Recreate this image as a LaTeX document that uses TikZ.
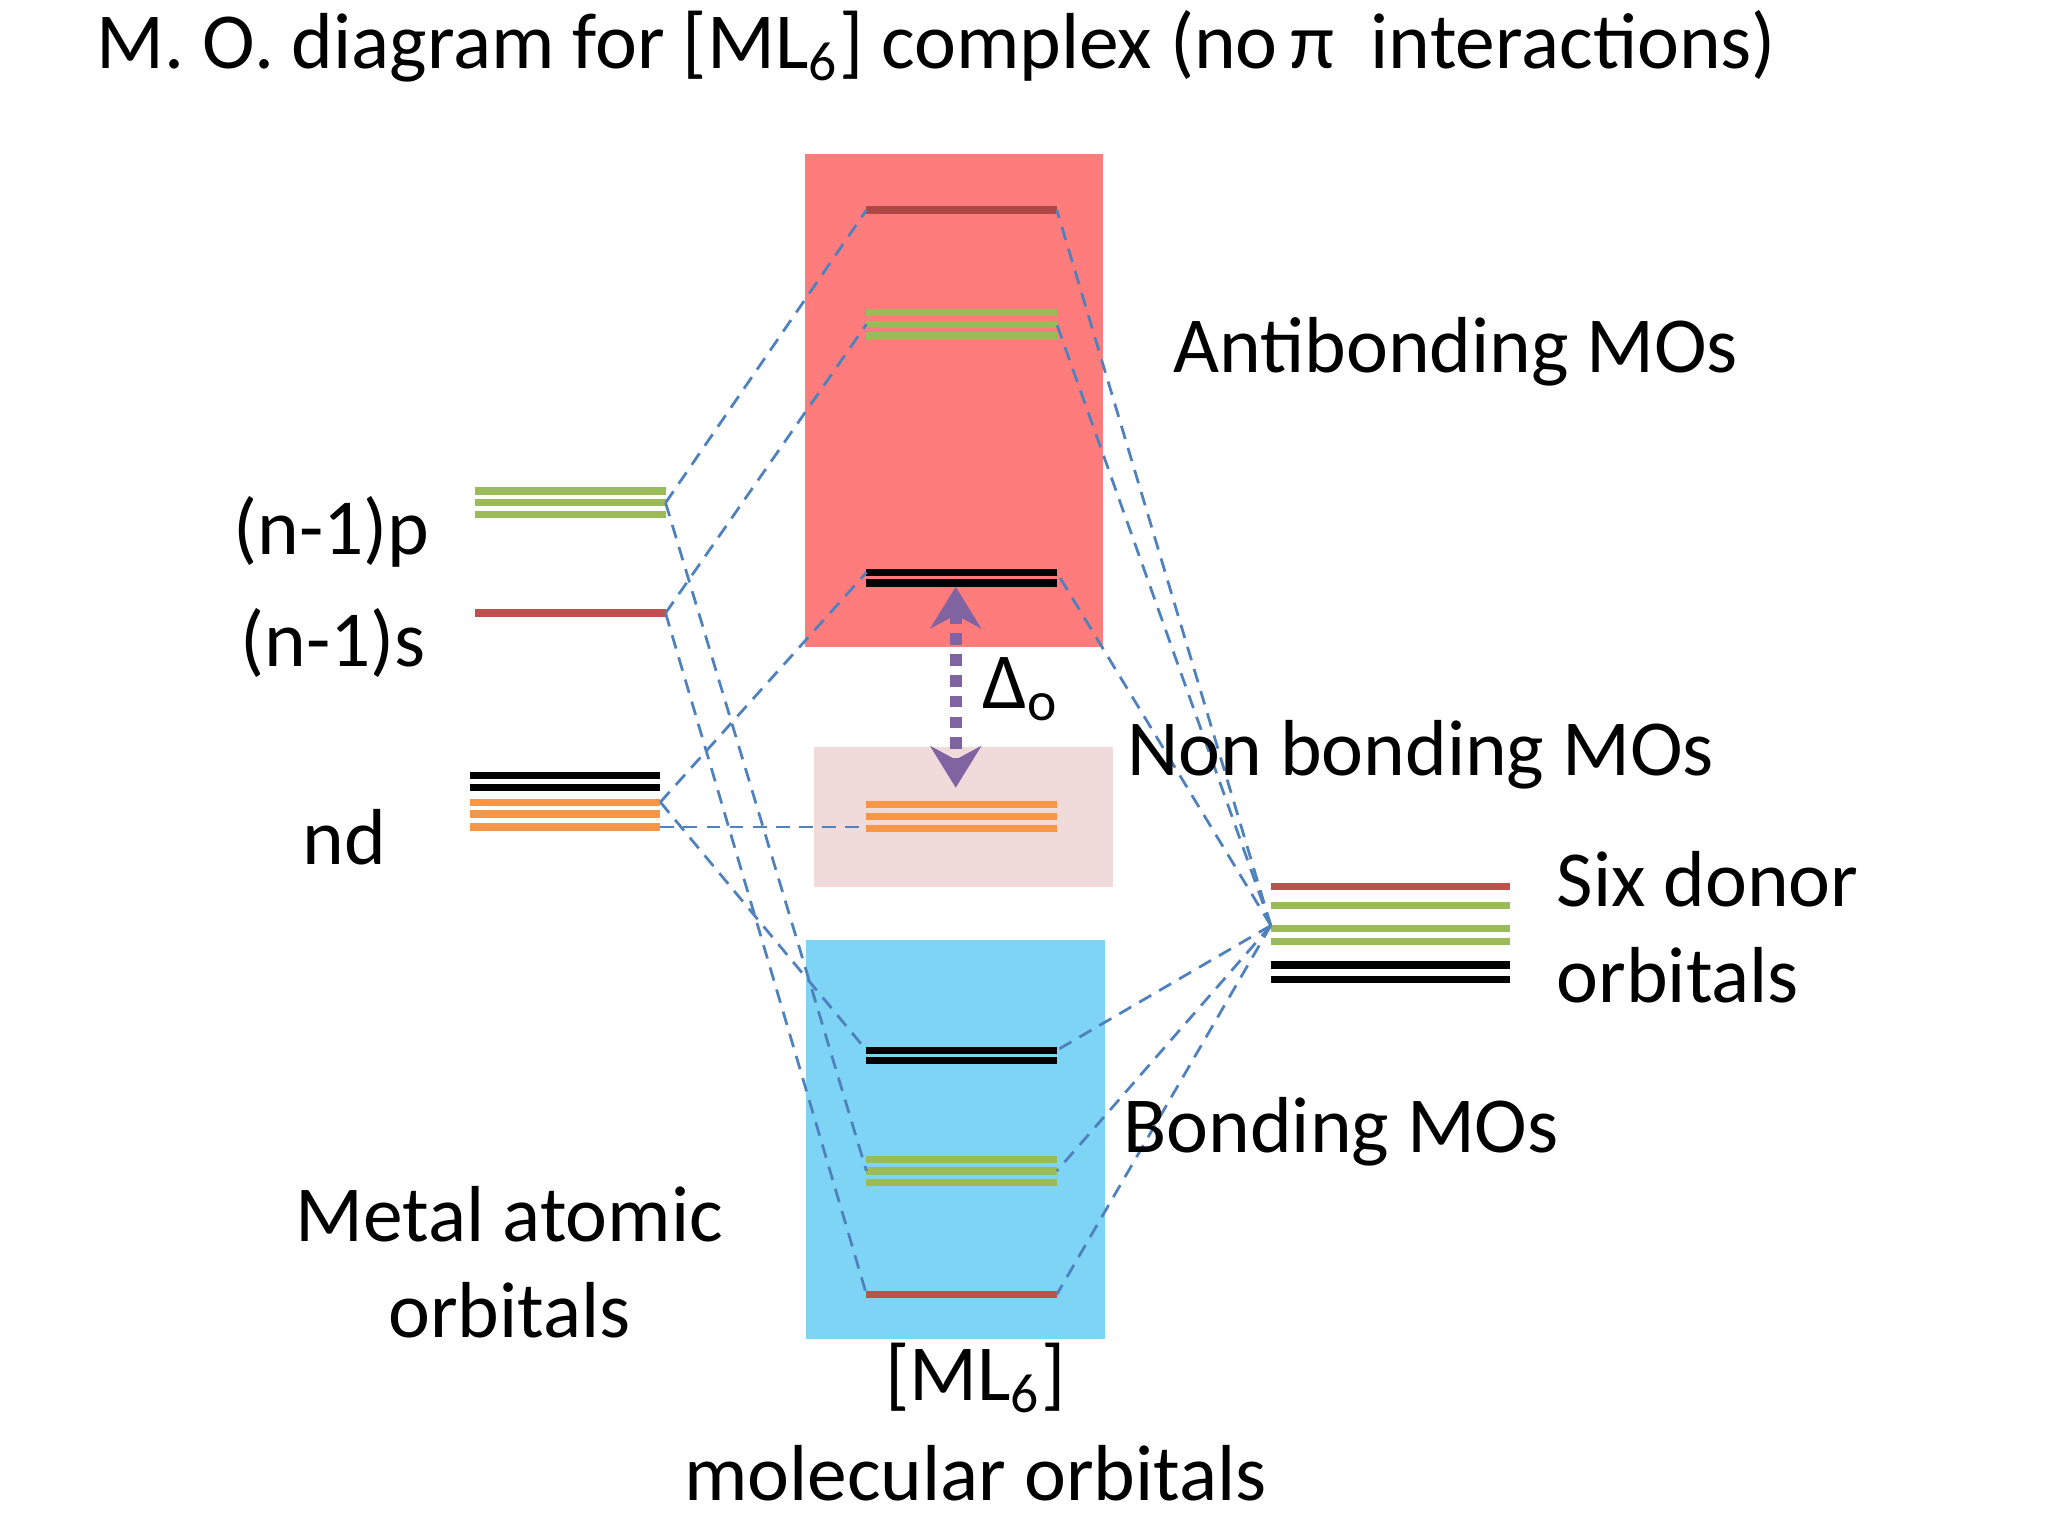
\documentclass[tikz,border=0pt]{standalone}
\usepackage{fontspec}
\setmainfont{Carlito}
\usetikzlibrary{arrows.meta}
\definecolor{lgreen}{HTML}{9BBB59}
\definecolor{lred}{HTML}{C0504D}
\definecolor{lorange}{HTML}{F79646}
\definecolor{lblue}{HTML}{4F81BD}
\definecolor{abox}{HTML}{FF7C7C}
\definecolor{nbox}{HTML}{F0DADA}
\definecolor{bbox}{HTML}{7DD4F5}
\definecolor{purp}{HTML}{8064A2}
\begin{document}
\begin{tikzpicture}[x=0.01cm,y=-0.01cm,
  lev/.style={line width=0.055cm},
  con/.style={lblue,dashed,line width=0.6pt,dash pattern=on 3pt off 2pt},
  lab/.style={font=\fontsize{17.2}{21}\selectfont,inner sep=0pt}]
\useasboundingbox (0,0) rectangle (1560,1170);
% boxes
\fill[abox] (613,117) rectangle (840,493);
\fill[nbox] (620,569) rectangle (848,676);
\fill[bbox] (614,716) rectangle (842,1020);
% left levels
\foreach \y in {374,383,392} \draw[lev,lgreen] (362,\y) -- (507,\y);
\draw[lev,lred] (362,467) -- (507,467);
\foreach \y in {591,600} \draw[lev,black] (358,\y) -- (503,\y);
\foreach \y in {611,620,630} \draw[lev,lorange] (358,\y) -- (503,\y);
% middle levels
\draw[lev,lred!90!black] (660,160) -- (805,160);
\foreach \y in {238,247,256} \draw[lev,lgreen] (660,\y) -- (805,\y);
\foreach \y in {436,444} \draw[lev,black] (660,\y) -- (805,\y);
\foreach \y in {613,622,631} \draw[lev,lorange] (660,\y) -- (805,\y);
\foreach \y in {800,808} \draw[lev,black] (660,\y) -- (805,\y);
\foreach \y in {883,892,901} \draw[lev,lgreen] (660,\y) -- (805,\y);
\draw[lev,lred] (660,986) -- (805,986);
% right levels
\draw[lev,lred] (968,675) -- (1150,675);
\foreach \y in {690,707,717} \draw[lev,lgreen] (968,\y) -- (1150,\y);
\foreach \y in {735,746} \draw[lev,black] (968,\y) -- (1150,\y);
% coordinates
\coordinate (P) at (507,383);
\coordinate (S) at (507,467);
\coordinate (D) at (503,611);
\coordinate (D2) at (503,630);
\coordinate (R) at (968,705);
\coordinate (Ma) at (660,160); \coordinate (Mar) at (805,160);
\coordinate (Mb) at (660,247); \coordinate (Mbr) at (805,247);
\coordinate (Mc) at (660,436); \coordinate (Mcr) at (805,436);
\coordinate (Mn) at (660,630);
\coordinate (Md) at (660,800); \coordinate (Mdr) at (805,800);
\coordinate (Me) at (660,892); \coordinate (Mer) at (805,892);
\coordinate (Mf) at (660,986); \coordinate (Mfr) at (805,986);
% connectors
\draw[con] (P) -- (Ma);
\draw[con] (P) -- (Me);
\draw[con] (S) -- (Mb);
\draw[con] (S) -- (Mf);
\draw[con] (D) -- (Mc);
\draw[con] (D) -- (Md);
\draw[con] (D2) -- (Mn);
\foreach \m in {Mar,Mbr,Mcr,Mdr,Mer,Mfr} \draw[con] (R) -- (\m);
% delta arrow
\coordinate (A1) at (728,447);
\coordinate (A2) at (728,600);
\draw[purp,line width=2.5pt,dotted,{Stealth[length=9pt,width=11pt]}-{Stealth[length=9pt,width=11pt]}] (A1) -- (A2);
% labels
\node[lab,anchor=west] (title) at (73,35) {M. O. diagram for [ML\textsubscript{6}] complex (no\,π\ \ interactions)};
\node[lab,anchor=west] (anti) at (893,268) {Antibonding MOs};
\node[lab,anchor=east] (np) at (328,405) {(n-1)p};
\node[lab,anchor=east] (ns) at (325,490) {(n-1)s};
\node[lab,anchor=east] (nd) at (295,638) {nd};
\node[lab,anchor=west] (delta) at (748,525) {Δ\textsubscript{o}};
\node[lab,anchor=west] (nb) at (858,575) {Non bonding MOs};
\node[lab,anchor=west] (six) at (1185,670) {Six donor};
\node[lab,anchor=west] (orb) at (1185,743) {orbitals};
\node[lab,anchor=west] (bond) at (855,862) {Bonding MOs};
\node[lab] (met) at (388,925) {Metal atomic};
\node[lab] (met2) at (388,998) {orbitals};
\node[lab] (ml) at (743,1050) {[ML\textsubscript{6}]};
\node[lab] (mo) at (743,1122) {molecular orbitals};
\end{tikzpicture}
\end{document}
